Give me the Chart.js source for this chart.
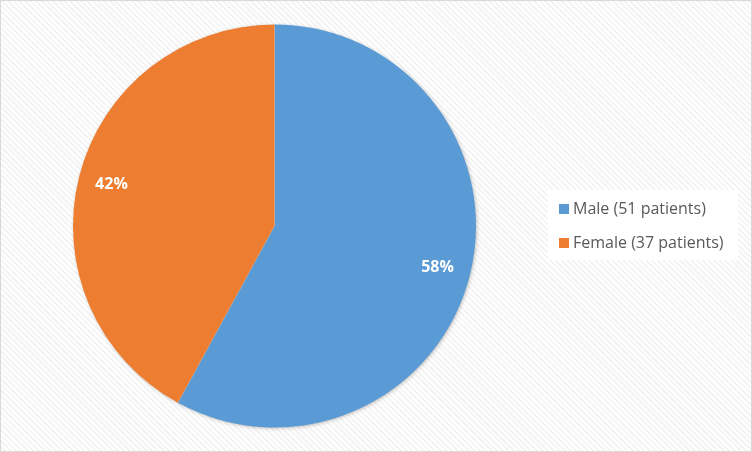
<!DOCTYPE html>
<html>
<head>
<meta charset="utf-8">
<script src="https://cdn.jsdelivr.net/npm/chart.js@4"></script>
<style>
  html, body { margin: 0; padding: 0; }
  #wrap {
    width: 752px; height: 452px; box-sizing: border-box;
    border: 1px solid #d9d9d9;
    background: repeating-linear-gradient(45deg, #ffffff 0 2px, #f4f4f4 2px 4px);
  }
  canvas { display: block; }
</style>
</head>
<body>
<div id="wrap"><canvas id="genderChart" width="750" height="450"></canvas></div>
<script>
const labels = ['Male (51 patients)', 'Female (37 patients)'];
const patients = [51, 37];
const colors = ['#5b9bd5', '#ed7d31'];

// pie shadow + percent labels + legend box
const piePlugin = {
    id: 'piePlugin',
    beforeDatasetsDraw: function (chart) {
        const arc = chart.getDatasetMeta(0).data[0];
        const ctx = chart.ctx;
        ctx.save();
        ctx.shadowColor = 'rgba(0,0,0,0.35)';
        ctx.shadowBlur = 4;
        ctx.shadowOffsetX = 1;
        ctx.shadowOffsetY = 1;
        ctx.fillStyle = '#ffffff';
        ctx.beginPath();
        ctx.arc(arc.x, arc.y, arc.outerRadius - 1, 0, Math.PI * 2);
        ctx.fill();
        ctx.restore();
    },
    afterDatasetsDraw: function (chart) {
        const ctx = chart.ctx;
        const total = patients.reduce(function (a, b) { return a + b; }, 0);
        ctx.save();
        ctx.fillStyle = '#ffffff';
        ctx.font = 'bold 16px "Open Sans", sans-serif';
        ctx.textAlign = 'center';
        ctx.textBaseline = 'middle';
        chart.getDatasetMeta(0).data.forEach(function (arc, i) {
            const mid = (arc.startAngle + arc.endAngle) / 2;
            const r = arc.outerRadius * 0.835;
            const pct = Math.round(patients[i] / total * 100) + '%';
            ctx.fillText(pct, arc.x + Math.cos(mid) * r, arc.y + Math.sin(mid) * r);
        });
        ctx.restore();
    },
    afterDraw: function (chart) {
        const ctx = chart.ctx;
        ctx.save();
        ctx.fillStyle = '#ffffff';
        ctx.fillRect(547, 189, 190, 70);
        ctx.font = '16px "Open Sans", sans-serif';
        ctx.textBaseline = 'middle';
        labels.forEach(function (lab, i) {
            const y = 208 + i * 34;
            ctx.fillStyle = colors[i];
            ctx.fillRect(558, y - 5, 10, 10);
            ctx.fillStyle = '#595959';
            ctx.fillText(lab, 572, y);
        });
        ctx.restore();
    }
};

new Chart(document.getElementById('genderChart'), {
    type: 'pie',
    data: {
        labels: labels,
        datasets: [{
            data: patients,
            backgroundColor: colors,
            borderWidth: 0
        }]
    },
    options: {
        responsive: false,
        animation: false,
        layout: { padding: { left: 72, right: 275, top: 23, bottom: 23 } },
        plugins: {
            legend: { display: false },
            tooltip: { enabled: false }
        }
    },
    plugins: [piePlugin]
});
</script>
</body>
</html>
